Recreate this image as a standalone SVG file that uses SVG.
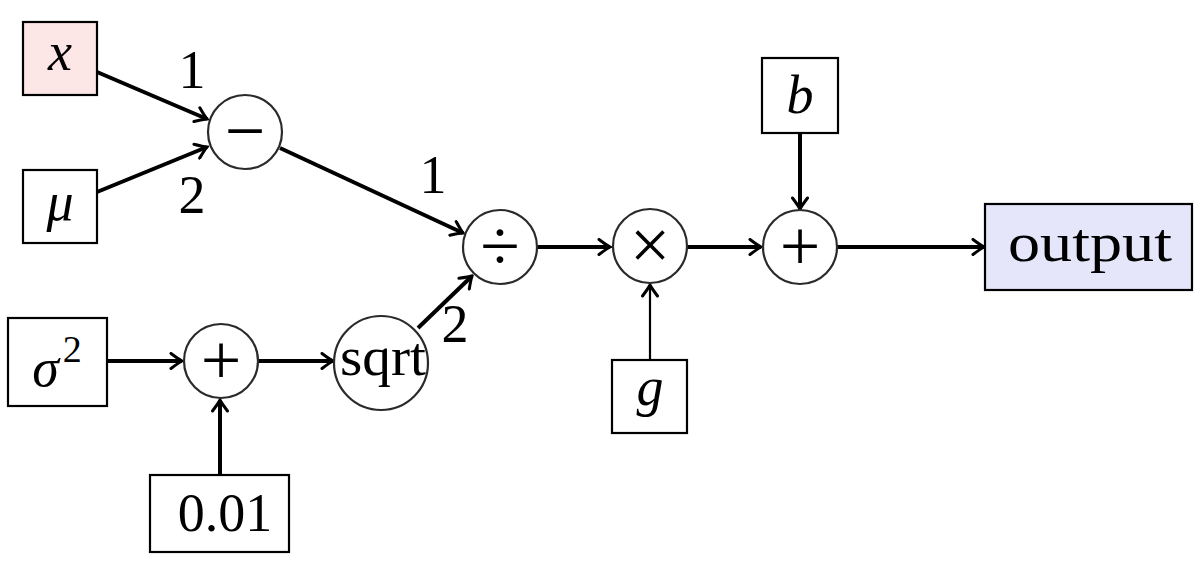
<svg xmlns="http://www.w3.org/2000/svg" width="1200" height="563" viewBox="0 0 1200 563">
<style>
.box{fill:#fff;stroke:#000;stroke-width:2.2}
.op{fill:#fff;stroke:#2a2a2a;stroke-width:2.2}
.t{font-family:"Liberation Serif","DejaVu Serif",serif;font-size:54px;fill:#000;text-anchor:middle}
.s{font-family:"Liberation Serif","DejaVu Serif",serif;font-size:72px;fill:#000;text-anchor:middle}
.i{font-style:italic}
.e{fill:none;stroke:#000;stroke-width:4}
.thin{stroke-width:2.2}
</style>
<defs>
<marker id="ah" viewBox="-13 -9 15 18" markerWidth="15" markerHeight="18" refX="0" refY="0" orient="auto" markerUnits="userSpaceOnUse">
<path d="M -11 -7.5 Q -3 -1.5 0 0 Q -3 1.5 -11 7.5" fill="none" stroke="#000" stroke-width="3" stroke-linecap="round"/>
</marker>
</defs>
<g id="connectors">
<line class="e" x1="97" y1="72" x2="207" y2="119" marker-end="url(#ah)"/>
<line class="e" x1="97" y1="192" x2="207" y2="147" marker-end="url(#ah)"/>
<line class="e" x1="280" y1="148" x2="463" y2="233" marker-end="url(#ah)"/>
<line class="e" x1="418" y1="328" x2="472" y2="276" marker-end="url(#ah)"/>
<line class="e" x1="107" y1="361" x2="182" y2="361" marker-end="url(#ah)"/>
<line class="e" x1="258" y1="361" x2="333" y2="361" marker-end="url(#ah)"/>
<line class="e" x1="220" y1="475" x2="220" y2="400" marker-end="url(#ah)"/>
<line class="e" x1="538" y1="247" x2="610" y2="247" marker-end="url(#ah)"/>
<line class="e" x1="687" y1="247" x2="761" y2="247" marker-end="url(#ah)"/>
<line class="e" x1="837" y1="247" x2="984" y2="247" marker-end="url(#ah)"/>
<line class="e" x1="800" y1="133" x2="800" y2="209" marker-end="url(#ah)"/>
<line class="e thin" x1="650" y1="360" x2="650" y2="285" marker-end="url(#ah)"/>
</g>
<g id="labels">
<text class="t" x="192" y="88">1</text>
<text class="t" x="192" y="213">2</text>
<text class="t" x="433" y="193">1</text>
<text class="t" x="455" y="342">2</text>
</g>
<g id="node-x">
<rect x="23" y="22" width="74" height="73" fill="#fde6e6" stroke="#000" stroke-width="2.2"/>
<text class="t i" x="60" y="70">x</text>
</g>
<g id="node-mu">
<rect class="box" x="23" y="170" width="74" height="73"/>
<text class="t i" x="60" y="220">μ</text>
</g>
<g id="node-minus">
<circle class="op" cx="245" cy="132" r="37"/>
<text class="s" x="245" y="155">−</text>
</g>
<g id="node-sigma">
<rect class="box" x="8" y="318" width="99" height="88"/>
<text class="t" x="57" y="386"><tspan class="i">σ</tspan><tspan font-size="38" dx="4" dy="-24">2</tspan></text>
</g>
<g id="node-plus1">
<circle class="op" cx="221" cy="361" r="37"/>
<text class="s" x="221" y="384">+</text>
</g>
<g id="node-eps">
<rect class="box" x="150" y="475" width="139" height="77"/>
<text class="t" x="225" y="531">0.01</text>
</g>
<g id="node-sqrt">
<circle class="op" cx="381" cy="363" r="47"/>
<text class="t" x="383" y="375" font-size="50" textLength="86" lengthAdjust="spacingAndGlyphs">sqrt</text>
</g>
<g id="node-div">
<circle class="op" cx="500" cy="247" r="37"/>
<text class="s" x="500" y="270">÷</text>
</g>
<g id="node-times">
<circle class="op" cx="650" cy="246" r="37"/>
<text class="s" x="650" y="269">×</text>
</g>
<g id="node-g">
<rect class="box" x="612" y="360" width="75" height="73"/>
<text class="t i" x="650" y="405">g</text>
</g>
<g id="node-plus2">
<circle class="op" cx="800" cy="247" r="37"/>
<text class="s" x="800" y="270">+</text>
</g>
<g id="node-b">
<rect class="box" x="762" y="58" width="76" height="75"/>
<text class="t i" x="800" y="113">b</text>
</g>
<g id="node-output">
<rect x="985" y="204" width="207" height="86" fill="#e6e6fb" stroke="#000" stroke-width="2.2"/>
<text class="t" x="1090" y="261" textLength="164" lengthAdjust="spacingAndGlyphs">output</text>
</g>
</svg>
